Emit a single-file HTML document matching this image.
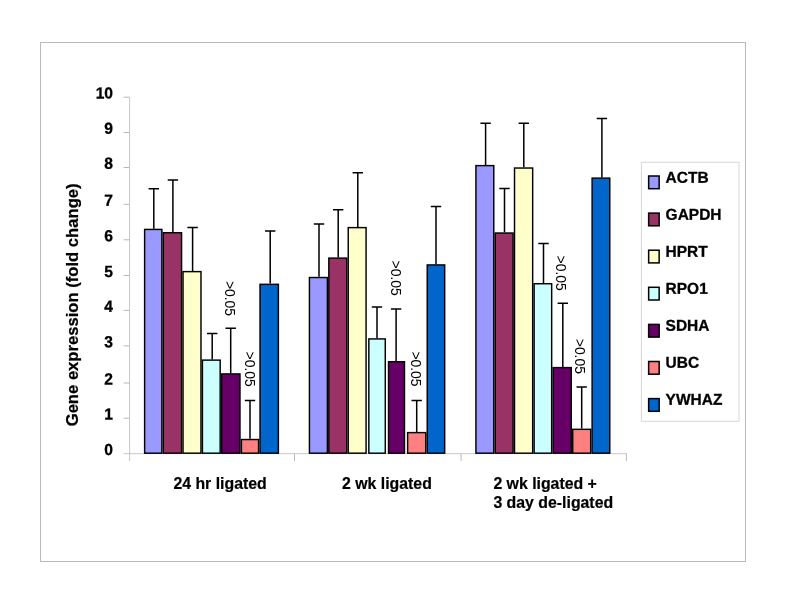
<!DOCTYPE html>
<html><head><meta charset="utf-8"><title>Gene expression (fold change)</title>
<style>
html,body{margin:0;padding:0;background:#fff;}
body{width:785px;height:606px;overflow:hidden;}
svg{display:block;}
text{font-family:"Liberation Sans",sans-serif;fill:#000;}
.b{font-weight:bold;}
</style></head><body>
<svg width="785" height="606" viewBox="0 0 785 606">
<rect x="0" y="0" width="785" height="606" fill="#fff"/>
<rect x="40.5" y="42.5" width="705" height="519" fill="#fff" stroke="#b9b9b9" stroke-width="1"/>
<g stroke="#c2c2c2" stroke-width="0.9" fill="none">
<line x1="129.6" y1="97.2" x2="129.6" y2="461"/>
<line x1="123.6" y1="453.7" x2="626.8" y2="453.7"/>
<line x1="123.6" y1="418.2" x2="129.6" y2="418.2" stroke="#b0b0b0"/>
<line x1="123.6" y1="383.0" x2="129.6" y2="383.0" stroke="#b0b0b0"/>
<line x1="123.6" y1="345.9" x2="129.6" y2="345.9" stroke="#b0b0b0"/>
<line x1="123.6" y1="310.4" x2="129.6" y2="310.4" stroke="#b0b0b0"/>
<line x1="123.6" y1="275.5" x2="129.6" y2="275.5" stroke="#b0b0b0"/>
<line x1="123.6" y1="239.8" x2="129.6" y2="239.8" stroke="#b0b0b0"/>
<line x1="123.6" y1="204.3" x2="129.6" y2="204.3" stroke="#b0b0b0"/>
<line x1="123.6" y1="167.5" x2="129.6" y2="167.5" stroke="#b0b0b0"/>
<line x1="123.6" y1="132.5" x2="129.6" y2="132.5" stroke="#b0b0b0"/>
<line x1="123.6" y1="97.2" x2="129.6" y2="97.2" stroke="#b0b0b0"/>
<line x1="294.5" y1="453.7" x2="294.5" y2="461" stroke="#b0b0b0"/>
<line x1="461.1" y1="453.7" x2="461.1" y2="461" stroke="#b0b0b0"/>
<line x1="626.4" y1="453.7" x2="626.4" y2="461" stroke="#b0b0b0"/>
</g>
<g class="b" font-size="15.6" text-anchor="end" stroke="#000" stroke-width="0.3">
<text transform="translate(113.0,455.1) rotate(0.04) scale(1,1.03)">0</text>
<text transform="translate(113.0,419.6) rotate(0.04) scale(1,1.03)">1</text>
<text transform="translate(113.0,384.4) rotate(0.04) scale(1,1.03)">2</text>
<text transform="translate(113.0,347.2) rotate(0.04) scale(1,1.03)">3</text>
<text transform="translate(113.0,311.8) rotate(0.04) scale(1,1.03)">4</text>
<text transform="translate(113.0,276.9) rotate(0.04) scale(1,1.03)">5</text>
<text transform="translate(113.0,241.2) rotate(0.04) scale(1,1.03)">6</text>
<text transform="translate(113.0,205.7) rotate(0.04) scale(1,1.03)">7</text>
<text transform="translate(113.0,168.8) rotate(0.04) scale(1,1.03)">8</text>
<text transform="translate(113.0,133.8) rotate(0.04) scale(1,1.03)">9</text>
<text transform="translate(113.0,98.5) rotate(0.04) scale(1,1.03)">10</text>
</g>
<text class="b" font-size="17.1" stroke="#000" stroke-width="0.25" transform="translate(77.8,426.3) rotate(-90) scale(0.972,1)">Gene expression (fold change)</text>
<g stroke="#000" stroke-width="1.5" fill="none">
<path d="M153.8 228.7V188.7M148.6 188.7H159.0"/>
<path d="M172.9 232.0V180.0M167.7 180.0H178.1"/>
<path d="M192.6 270.9V227.4M187.4 227.4H197.8"/>
<path d="M212.2 359.4V333.6M207.0 333.6H217.4"/>
<path d="M230.7 373.2V328.3M225.5 328.3H235.9"/>
<path d="M250.0 438.8V400.4M244.8 400.4H255.2"/>
<path d="M270.2 283.6V231.0M265.0 231.0H275.4"/>
</g>
<g stroke="#000" stroke-width="1.45">
<rect x="144.62" y="229.42" width="17.25" height="223.75" fill="#9999ff"/>
<rect x="163.32" y="232.72" width="18.25" height="220.45" fill="#993366"/>
<rect x="183.03" y="271.62" width="17.95" height="181.55" fill="#ffffcc"/>
<rect x="202.42" y="360.12" width="17.75" height="93.05" fill="#ccffff"/>
<rect x="221.62" y="373.93" width="18.35" height="79.25" fill="#660066"/>
<rect x="241.42" y="439.53" width="17.15" height="13.65" fill="#ff8080"/>
<rect x="260.03" y="284.33" width="18.35" height="168.85" fill="#0066cc"/>
</g>
<g stroke="#000" stroke-width="1.5" fill="none">
<path d="M319.0 276.8V224.0M313.8 224.0H324.2"/>
<path d="M338.2 257.4V209.7M333.0 209.7H343.4"/>
<path d="M357.8 226.9V172.8M352.6 172.8H363.0"/>
<path d="M377.0 338.2V307.1M371.8 307.1H382.2"/>
<path d="M396.1 361.0V308.9M390.9 308.9H401.3"/>
<path d="M416.7 431.9V400.6M411.5 400.6H421.9"/>
<path d="M436.0 264.2V206.5M430.8 206.5H441.2"/>
</g>
<g stroke="#000" stroke-width="1.45">
<rect x="309.43" y="277.53" width="17.95" height="175.65" fill="#9999ff"/>
<rect x="328.83" y="258.12" width="17.95" height="195.05" fill="#993366"/>
<rect x="348.23" y="227.62" width="17.85" height="225.55" fill="#ffffcc"/>
<rect x="368.83" y="338.93" width="16.45" height="114.25" fill="#ccffff"/>
<rect x="388.53" y="361.73" width="15.95" height="91.45" fill="#660066"/>
<rect x="407.62" y="432.62" width="18.15" height="20.55" fill="#ff8080"/>
<rect x="427.23" y="264.93" width="17.45" height="188.25" fill="#0066cc"/>
</g>
<g stroke="#000" stroke-width="1.5" fill="none">
<path d="M485.6 164.9V123.2M480.4 123.2H490.8"/>
<path d="M504.5 232.3V188.5M499.3 188.5H509.7"/>
<path d="M523.8 167.3V123.2M518.6 123.2H529.0"/>
<path d="M543.5 283.0V243.6M538.3 243.6H548.7"/>
<path d="M562.8 366.9V303.2M557.6 303.2H568.0"/>
<path d="M581.7 428.6V387.1M576.5 387.1H586.9"/>
<path d="M601.9 177.4V118.4M596.7 118.4H607.1"/>
</g>
<g stroke="#000" stroke-width="1.45">
<rect x="475.93" y="165.62" width="17.85" height="287.55" fill="#9999ff"/>
<rect x="495.23" y="233.03" width="17.85" height="220.15" fill="#993366"/>
<rect x="514.52" y="168.03" width="18.15" height="285.15" fill="#ffffcc"/>
<rect x="534.12" y="283.73" width="17.55" height="169.45" fill="#ccffff"/>
<rect x="553.12" y="367.62" width="18.15" height="85.55" fill="#660066"/>
<rect x="572.73" y="429.33" width="17.95" height="23.85" fill="#ff8080"/>
<rect x="592.12" y="178.12" width="17.65" height="275.05" fill="#0066cc"/>
</g>
<text font-size="13.9" transform="translate(224.9,280.9) rotate(90) scale(1,1.09)">&gt;0.05</text>
<text font-size="13.9" transform="translate(244.9,351.6) rotate(90) scale(1,1.09)">&gt;0.05</text>
<text font-size="13.9" transform="translate(390.6,260.6) rotate(90) scale(1,1.09)">&gt;0.05</text>
<text font-size="13.9" transform="translate(410.6,351.4) rotate(90) scale(1,1.09)">&gt;0.05</text>
<text font-size="13.9" transform="translate(556.4,255.6) rotate(90) scale(1,1.09)">&gt;0.05</text>
<text font-size="13.9" transform="translate(575.0,338.8) rotate(90) scale(1,1.09)">&gt;0.05</text>
<g class="b" font-size="15.85" stroke="#000" stroke-width="0.2">
<text x="173.4" y="488.6">24 hr ligated</text>
<text x="342.0" y="488.6">2 wk ligated</text>
<text x="493.4" y="488.6">2 wk ligated +</text>
<text x="493.4" y="507.9">3 day de-ligated</text>
</g>
<rect x="641.4" y="162.3" width="97.6" height="259" fill="#fff" stroke="#d8d8d8" stroke-width="1"/>
<g class="b" font-size="15.5" stroke="#000" stroke-width="0.3">
<rect x="648.65" y="176.00" width="10.5" height="12.7" fill="#9999ff" stroke="#000" stroke-width="1.5"/>
<text transform="translate(665.6,182.8) rotate(0.04) scale(1,1.015)">ACTB</text>
<rect x="648.65" y="213.10" width="10.5" height="12.7" fill="#993366" stroke="#000" stroke-width="1.5"/>
<text transform="translate(665.6,219.8) rotate(0.04) scale(1,1.015)">GAPDH</text>
<rect x="648.65" y="250.20" width="10.5" height="12.7" fill="#ffffcc" stroke="#000" stroke-width="1.5"/>
<text transform="translate(665.6,256.8) rotate(0.04) scale(1,1.015)">HPRT</text>
<rect x="648.65" y="287.30" width="10.5" height="12.7" fill="#ccffff" stroke="#000" stroke-width="1.5"/>
<text transform="translate(665.6,293.8) rotate(0.04) scale(1,1.015)">RPO1</text>
<rect x="648.65" y="324.40" width="10.5" height="12.7" fill="#660066" stroke="#000" stroke-width="1.5"/>
<text transform="translate(665.6,330.8) rotate(0.04) scale(1,1.015)">SDHA</text>
<rect x="648.65" y="361.50" width="10.5" height="12.7" fill="#ff8080" stroke="#000" stroke-width="1.5"/>
<text transform="translate(665.6,367.8) rotate(0.04) scale(1,1.015)">UBC</text>
<rect x="648.65" y="398.60" width="10.5" height="12.7" fill="#0066cc" stroke="#000" stroke-width="1.5"/>
<text transform="translate(665.6,404.8) rotate(0.04) scale(1,1.015)">YWHAZ</text>
</g>
</svg>
</body></html>
